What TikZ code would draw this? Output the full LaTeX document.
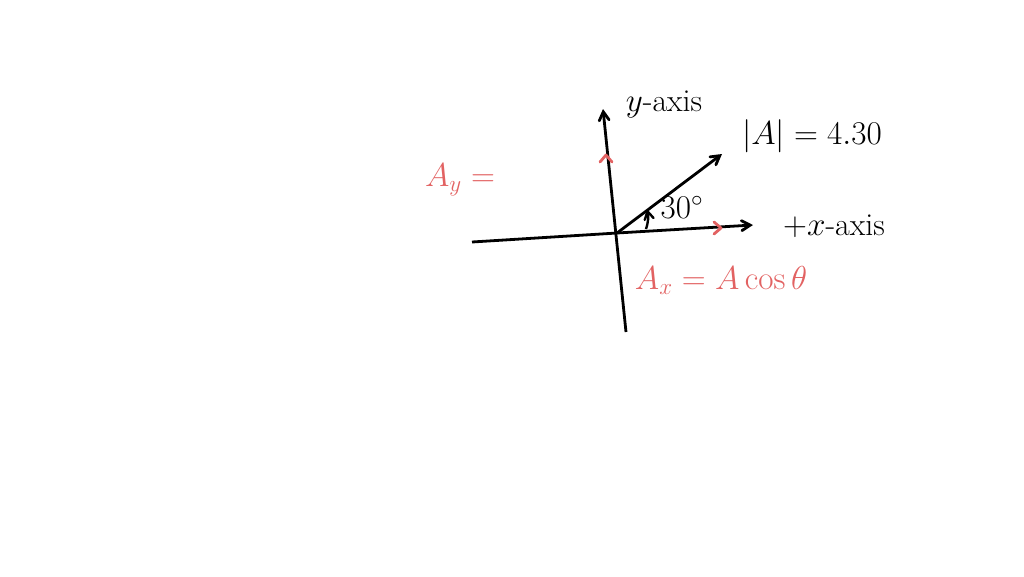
\documentclass[tikz,border=0pt]{standalone}
\usepackage{amssymb}
\usepackage{tikz}
\usetikzlibrary{arrows}
\definecolor{penred}{RGB}{226,98,98}
\tikzstyle{axis} = [draw, line width=2.1pt, -angle 60]
\tikzstyle{vec} = [draw, line width=2.1pt, -angle 60]
\tikzstyle{tick} = [draw, penred, line width=2.1pt, line cap=round, line join=round]
\tikzstyle{lbl} = [font=\fontsize{24}{28}\selectfont, inner sep=1pt]
\tikzstyle{rlbl} = [lbl, text=penred]

\begin{document}
\begin{tikzpicture}[x=0.75pt, y=-0.75pt]
    \useasboundingbox (0,0) rectangle (1024,576);
    % axes
    \coordinate (O) at (617,233);
    \coordinate (xl) at (472,242);
    \coordinate (xr) at (753,225);
    \coordinate (yb) at (626,332);
    \coordinate (yt) at (603,109);
    \coordinate (A) at (722,154);

    \path[draw, line width=2.1pt] (xl) -- (O);
    \path[axis] (O) -- (xr);
    \path[axis] (yb) -- (yt);
    \path[vec] (O) -- (A);

    % unit arrows
    \path[tick] (600,162) -- (606,155) -- (612,162);
    \path[tick] (714,222) -- (721,228) -- (714,234);

    % angle
    \coordinate (a1) at (646,229);
    \coordinate (a2) at (647,209);
    \path[draw, line width=1.8pt, -angle 60] (a1) to[bend right=15] (a2);

    \node[lbl] (ylab) at (664,104) {$y$-axis};
    \node[lbl] (xlab) at (834,226) {$+x$-axis};
    \node[lbl] (Alab) at (812,136) {$|A| = 4.30$};
    \node[lbl] (ang) at (682,207) {$30^\circ$};
    \node[rlbl] (Ay) at (460,180) {$A_y =$};
    \node[rlbl] (Ax) at (721,280) {$A_x = A\cos\theta$};
\end{tikzpicture}
\end{document}
